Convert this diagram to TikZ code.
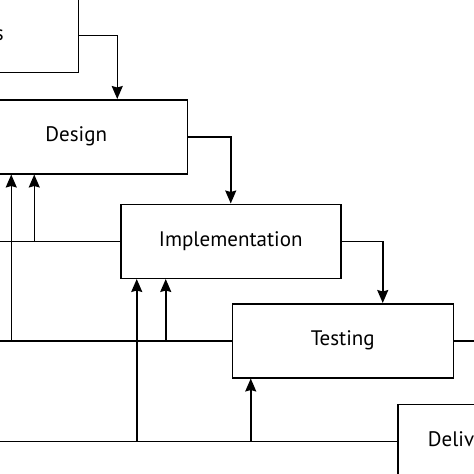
\documentclass[tikz,border=0pt]{standalone}
\usepackage{fontspec}
\setmainfont{PT Sans}
\usetikzlibrary{positioning,calc,arrows.meta}
\tikzstyle{phase} = [rectangle, 
minimum width=220pt, 
minimum height=74pt,
text centered, 
draw=black, 
line width=1.5pt,
font=\fontsize{21}{25}\selectfont]
\tikzstyle{arrow} = [line width=1.5pt,-{Stealth[length=13pt,width=11pt,inset=1.5pt]}]
\tikzstyle{line} = [line width=1.5pt]

\begin{document}
\begin{tikzpicture}[x=1pt, y=-1pt]
\useasboundingbox (0,0) rectangle (474,474);

% Phase boxes, each stepped down and right of the one before
\node (Requirements) [phase, minimum width=272pt, anchor=south east] at (79,73) {Requirements};
\node (Design) [phase, minimum width=222pt, below left=26pt and -109pt of Requirements.south east] {Design};
\node (Implementation) [phase, below right=29pt and -68pt of Design.south east] {Implementation};
\node (Testing) [phase, minimum width=221pt, below right=24pt and -110pt of Implementation.south east] {Testing};
\node (Delivery) [phase, minimum width=134pt, below right=25pt and -57pt of Testing.south east] {Delivery};

% Free ends at the picture edges
\coordinate (West_Edge) at (-20,0);
\coordinate (East_Edge) at (494,0);

% Where the feedback arrows enter the boxes
\coordinate (Design_Tap_Impl) at ($(Design.south)+(-42,0)$);
\coordinate (Design_Tap_Test) at ($(Design.south)+(-65,0)$);
\coordinate (Impl_Tap_Test) at ($(Implementation.south)+(-65,0)$);
\coordinate (Impl_Tap_Deliv) at ($(Implementation.south)+(-94,0)$);
\coordinate (Test_Tap_Deliv) at ($(Testing.south)+(-92,0)$);

% Forward flow
\draw [arrow] (Requirements.east) -| ($(Design.north)+(41,0)$);
\draw [arrow] (Design.east) -| (Implementation.north);
\draw [arrow] (Implementation.east) -| ($(Testing.north)+(40,0)$);
\draw [line] (Testing.east) -- (Testing.east -| East_Edge);

% Feedback from implementation
\draw [arrow] (Implementation.west) -| (Design_Tap_Impl);
\draw [line] (Design_Tap_Impl |- Implementation.west) -- (Implementation.west -| West_Edge);

% Feedback from testing
\draw [arrow] (Testing.west) -| (Impl_Tap_Test);
\draw [arrow] (Impl_Tap_Test |- Testing.west) -| (Design_Tap_Test);
\draw [line] (Design_Tap_Test |- Testing.west) -- (Testing.west -| West_Edge);

% Feedback from delivery
\draw [arrow] (Delivery.west) -| (Test_Tap_Deliv);
\draw [arrow] (Test_Tap_Deliv |- Delivery.west) -| (Impl_Tap_Deliv);
\draw [line] (Impl_Tap_Deliv |- Delivery.west) -- (Delivery.west -| West_Edge);

\end{tikzpicture}
\end{document}
